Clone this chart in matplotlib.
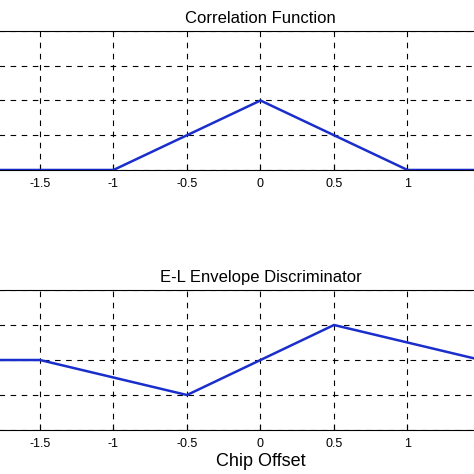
import matplotlib
matplotlib.use("Agg")
import matplotlib.pyplot as plt
plt.rcParams['font.family'] = ['Liberation Sans', 'DejaVu Sans']

x_corr = [-2, -1, 0, 1, 2]
y_corr = [0, 0, 1, 0, 0]
x_disc = [-2, -1.5, -1, -0.5, 0, 0.5, 1, 1.5, 2]
y_disc = [0, 0, -0.5, -1, 0, 1, 0.5, 0, 0]
xticks = [-2, -1.5, -1, -0.5, 0, 0.5, 1, 1.5, 2]
xticklabels = ['-2', '-1.5', '-1', '-0.5', '0', '0.5', '1', '1.5', '2']

fig = plt.figure(figsize=(4.74, 4.74), dpi=100)
ax1 = fig.add_axes([-0.0707, 0.6414, 1.2405, 0.2932])
ax2 = fig.add_axes([-0.0707, 0.0928, 1.2405, 0.2954])

for ax, xs, ys, yl, yt, title in [
    (ax1, x_corr, y_corr, (0, 2), [0, 0.5, 1, 1.5, 2], 'Correlation Function'),
    (ax2, x_disc, y_disc, (-2, 2), [-2, -1, 0, 1, 2], 'E-L Envelope Discriminator')]:
    ax.plot(xs, ys, color='#1a2ecc', lw=1.8)
    ax.set_xlim(-2, 2)
    ax.set_ylim(*yl)
    ax.set_yticks(yt)
    ax.set_xticks(xticks)
    ax.set_xticklabels(xticklabels, fontsize=9)
    ax.tick_params(direction='in', length=4, pad=6)
    ax.grid(True, color='black', linestyle=(0, (5, 5)), lw=0.8)
    ax.set_title(title, fontsize=12, pad=6)
    for s in ax.spines.values():
        s.set_linewidth(0.8)

ax2.set_xlabel('Chip Offset', fontsize=13, labelpad=2)
fig.savefig('out.png', dpi=100)
